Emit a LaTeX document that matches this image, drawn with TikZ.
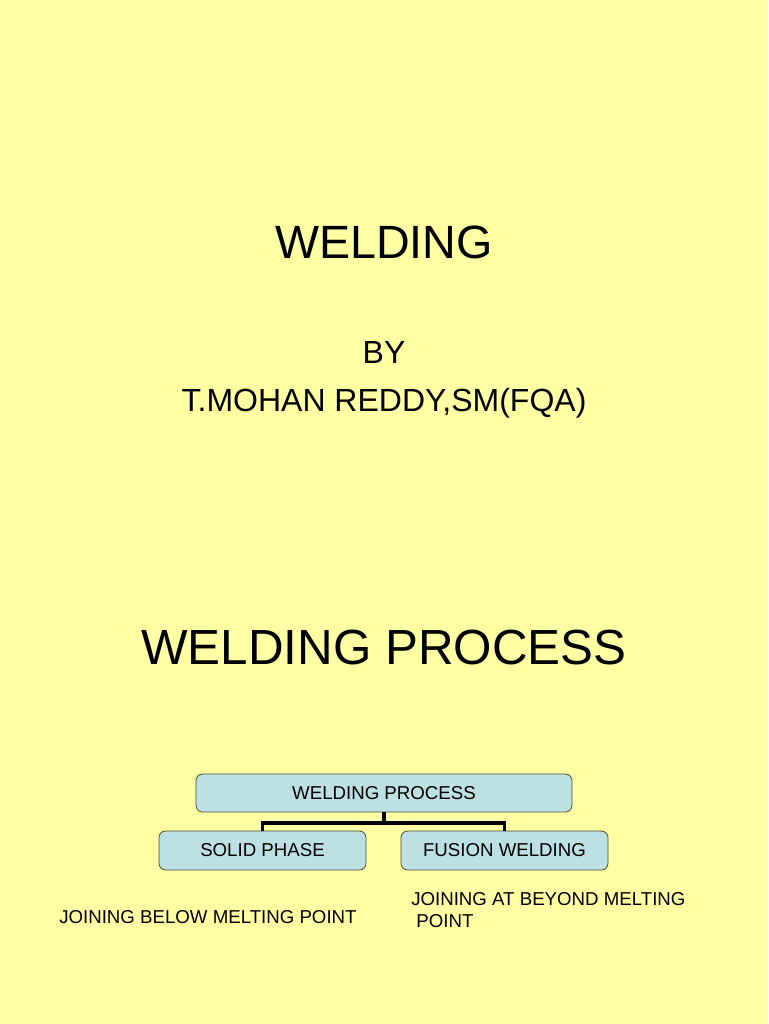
\documentclass[tikz,border=0pt]{standalone}
\usepackage{fontspec}
\setmainfont{Liberation Sans}
\definecolor{bg}{HTML}{FFFFA3}
\definecolor{boxfill}{HTML}{BDE0E3}
\definecolor{boxline}{HTML}{4A4A3A}
\begin{document}
\begin{tikzpicture}[x=0.75pt,y=-0.75pt,
  pbox/.style={draw=boxline,fill=boxfill,rounded corners=5pt,line width=0.6pt,inner sep=0pt,font=\fontsize{14}{16}\selectfont},
  lbl/.style={anchor=west,inner sep=0pt,font=\fontsize{14}{17}\selectfont}]
\fill[bg] (0,0) rectangle (768,1024);
\useasboundingbox (0,0) rectangle (768,1024);
\node (t1) at (384,242) {\fontsize{35}{40}\selectfont WELDING};
\node (t2) at (384,352) {\fontsize{24}{28}\selectfont BY};
\node (t3) at (384,403) {\fontsize{24}{28}\selectfont T.MOHAN REDDY,SM(FQA)};
\node (t4) at (384,648) {\fontsize{37}{42}\selectfont WELDING PROCESS};
\node[pbox,minimum width=376*0.75pt,minimum height=38*0.75pt] (wp) at (384,793) {WELDING PROCESS};
\node[pbox,minimum width=207*0.75pt,minimum height=39*0.75pt] (sp) at (262.5,850.5) {SOLID PHASE};
\node[pbox,minimum width=207*0.75pt,minimum height=39*0.75pt] (fw) at (504.5,850.5) {FUSION WELDING};
\coordinate (j) at (384,823);
\draw[line width=2.4pt] (wp.south) -- (j);
\draw[line width=2.4pt] (sp.north) |- (j) -| (fw.north);
\node[lbl] (l1) at (59,917) {JOINING BELOW MELTING POINT};
\node[lbl,align=left] (l2) at (411,910) {JOINING AT BEYOND MELTING\\\ POINT};
\end{tikzpicture}
\end{document}
